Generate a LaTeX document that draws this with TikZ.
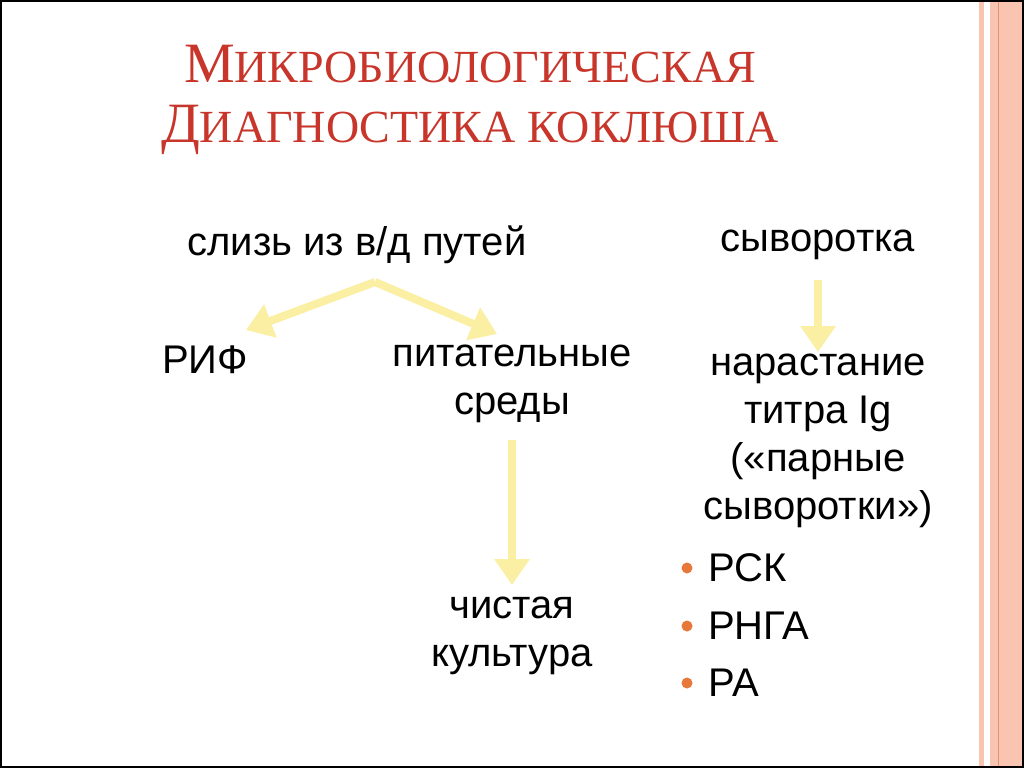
\documentclass[tikz,border=0pt]{standalone}
\usepackage{fontspec}
\setmainfont{Liberation Sans}
\newfontfamily\titlefont{Liberation Serif}
\usetikzlibrary{arrows.meta}
\definecolor{titlered}{HTML}{C8352A}
\definecolor{arrowyellow}{HTML}{FAEFA3}
\definecolor{stripe}{HTML}{F9C4B0}
\definecolor{stripedark}{HTML}{E2966F}
\definecolor{dotorange}{HTML}{E8773A}
\tikzset{
  body/.style={font=\fontsize{40}{48}\selectfont, align=center, inner sep=0pt},
  arr/.style={draw=arrowyellow, line width=8pt, -{Triangle[length=26pt,width=34pt]}},
  dot/.style={circle, fill=dotorange, inner sep=0pt, minimum size=11pt}
}
\begin{document}
\begin{tikzpicture}[x=1pt,y=-1pt]
  \useasboundingbox (0,0) rectangle (1024,768);
  \fill[white] (0,0) rectangle (1024,768);
  % right border stripes
  \fill[stripe] (979,0) rectangle (984,768);
  \fill[stripe] (990,0) rectangle (1022,768);
  \draw[stripedark, line width=1pt] (998,0) -- (998,768);
  \draw[black, line width=1.5pt] (1,1) rectangle (1023,767);
  % title
  \node[text=titlered, font=\titlefont\fontsize{46}{60}\selectfont, align=center] (title) at (470,100)
    {{\fontsize{57}{60}\selectfont М}ИКРОБИОЛОГИЧЕСКАЯ\\{\fontsize{57}{60}\selectfont Д}ИАГНОСТИКА КОКЛЮША};
  % left branch
  \node[body] (mucus) at (357,245) {слизь из в/д путей};
  \coordinate (fork) at (375,282);
  \node[body] (rif) at (205,360) {РИФ};
  \node[body] (media) at (512,384) {питательные\\среды};
  \node[body] (pure) at (512,636) {чистая\\культура};
  \draw[arr] (fork) -- (246,330);
  \draw[arr] (fork) -- (497,334);
  \draw[arr] (512,440) -- (512,585);
  % right branch
  \node[body] (serum) at (818,245) {сыворотка};
  \node[body] (titre) at (818,441) {нарастание\\титра Ig\\(«парные\\сыворотки»)};
  \draw[arr] (818,280) -- (818,352);
  \foreach \t/\y [count=\i] in {РСК/568, РНГА/626, РА/683} {
    \node[dot] (dot\i) at (687,\y) {};
    \node[body, anchor=west] (test\i) at (708,\y) {\t};
  }
\end{tikzpicture}
\end{document}
